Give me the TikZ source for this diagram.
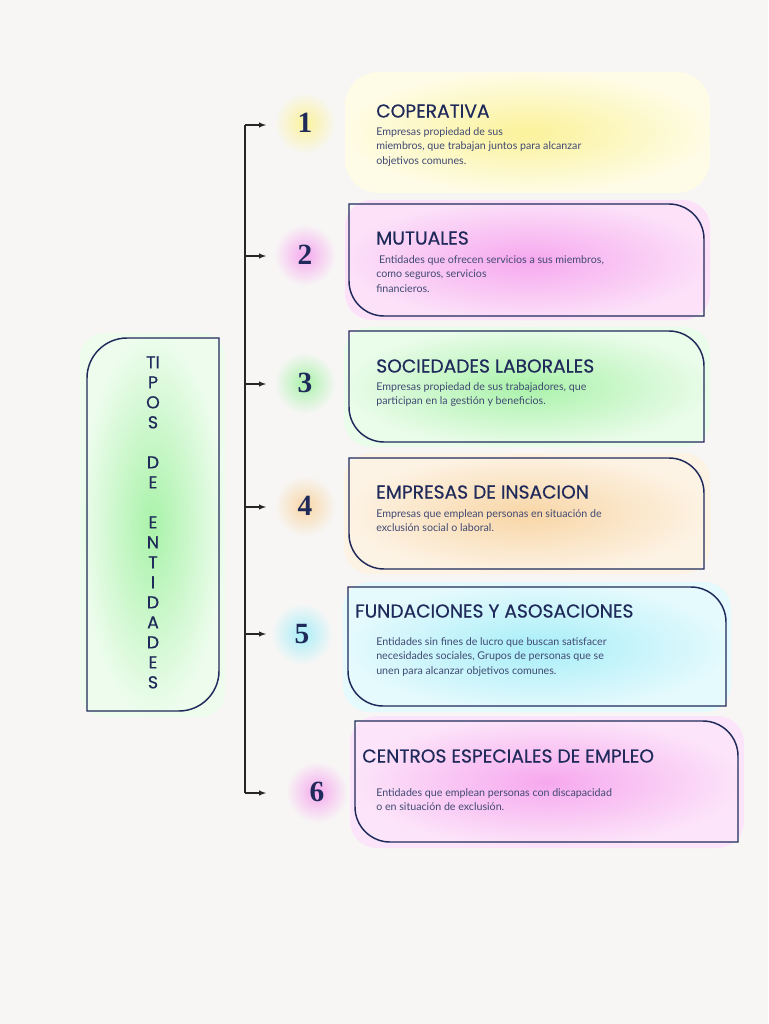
\documentclass[tikz,border=0pt]{standalone}
\usepackage{fontspec}
\setmainfont{Lato}
\newfontfamily\ttlfont{Poppins}[FakeBold=0.5]
\newfontfamily\numfont{Liberation Serif}
\begin{document}
\begin{tikzpicture}[x=0.75pt,y=-0.75pt,
  cardline/.style={draw=navy,line width=1.1pt},
  ttl/.style={anchor=west,inner sep=0,text=navy,font=\ttlfont\fontsize{14}{14}\selectfont},
  body/.style={anchor=north west,inner sep=0,text=navy!85,font=\fontsize{8}{11}\selectfont,align=left},
  num/.style={text=navy,font=\numfont\bfseries\fontsize{22}{22}\selectfont},
  arr/.style={-latex,line width=0.8pt,black!85}]
\definecolor{navy}{HTML}{1F2A5A}
\definecolor{bg}{HTML}{F7F6F5}
\definecolor{cy}{HTML}{FBF29A}\definecolor{cp}{HTML}{F6A8EE}
\definecolor{cg}{HTML}{A9F2A9}\definecolor{co}{HTML}{F8D6A6}
\definecolor{cc}{HTML}{A8EEF8}
\fill[bg] (0,0) rectangle (768,1024);
\useasboundingbox (0,0) rectangle (768,1024);
\newcommand\tcard[5]{\draw[cardline] (#1,#2) -- ({#3-#5},#2) .. controls ({#3-0.45*#5},#2) and (#3,{#2+0.45*#5}) .. (#3,{#2+#5}) -- (#3,#4) -- ({#1+#5},#4) .. controls ({#1+0.45*#5},#4) and (#1,{#4-0.45*#5}) .. (#1,{#4-#5}) -- cycle;}
% left box
\shade[rounded corners=18,inner color=cg,outer color=cg!20] (80,333) rectangle (225,717);
\draw[cardline] (87,378) .. controls (87,356) and (105,338) .. (127,338) -- (219,338) -- (219,671) .. controls (219,693) and (201,711) .. (179,711) -- (87,711) -- cycle;
\node[inner sep=0,text=navy,font=\ttlfont\fontsize{13}{15}\selectfont,align=center,anchor=north] (title) at (153,356) {TI\\P\\O\\S\\[15pt]D\\E\\[15pt]E\\N\\T\\I\\D\\A\\D\\E\\S};
% connector spine
\coordinate (top) at (245,125);
\coordinate (bot) at (245,793);
\draw[line width=0.9pt,black!85] (top) -- (bot);
% cards backgrounds
\shade[rounded corners=25,inner color=cy,outer color=cy!25] (345,72) rectangle (710,193);
\shade[rounded corners=20,inner color=cp,outer color=cp!35] (345,200) rectangle (710,320);
\shade[rounded corners=20,inner color=cg,outer color=cg!25] (344,327) rectangle (710,447);
\shade[rounded corners=20,inner color=co,outer color=co!30] (344,453) rectangle (710,574);
\shade[rounded corners=20,inner color=cc,outer color=cc!30] (343,582) rectangle (731,712);
\shade[rounded corners=20,inner color=cp,outer color=cp!30] (350,716) rectangle (744,848);
\tcard{349}{204}{704}{316}{35}
\tcard{349}{331}{704}{442}{35}
\tcard{349}{458}{704}{569}{35}
\tcard{348}{587}{726}{706}{35}
\tcard{355}{721}{738}{842}{35}
% number circles
\foreach \n/\x/\y/\c in {1/305/123/cy,2/305/255/cp,3/305/383/cg,4/305/506/co,5/302/634/cc,6/317/792/cp}{
  \shade[inner color=\c,outer color=bg] (\x,\y) circle (31);
  \node[num] (n\n) at (\x,\y) {\n};
}
\foreach \y [count=\i] in {125,256,384,507,634,793}{
  \coordinate (b\i) at (245,\y);
  \coordinate (e\i) at (266,\y);
  \draw[arr] (b\i) -- (e\i);
}
% texts
\node[ttl] (t1) at (376,111) {COPERATIVA};
\node[body] (d1) at (376,127) {Empresas propiedad de sus\\miembros, que trabajan juntos para alcanzar\\objetivos comunes.};
\node[ttl] (t2) at (376,238) {MUTUALES};
\node[body] (d2) at (376,255) {\ Entidades que ofrecen servicios a sus miembros,\\como seguros, servicios\\financieros.};
\node[ttl] (t3) at (376,366) {SOCIEDADES LABORALES};
\node[body] (d3) at (376,382) {Empresas propiedad de sus trabajadores, que\\participan en la gestión y beneficios.};
\node[ttl] (t4) at (376,492) {EMPRESAS DE INSACION};
\node[body] (d4) at (376,509) {Empresas que emplean personas en situación de\\exclusión social o laboral.};
\node[ttl] (t5) at (355,611) {FUNDACIONES Y ASOSACIONES};
\node[body] (d5) at (376,637) {Entidades sin fines de lucro que buscan satisfacer\\necesidades sociales, Grupos de personas que se\\unen para alcanzar objetivos comunes.};
\node[ttl] (t6) at (362,756) {CENTROS ESPECIALES DE EMPLEO};
\node[body] (d6) at (376,788) {Entidades que emplean personas con discapacidad\\o en situación de exclusión.};
\end{tikzpicture}
\end{document}
